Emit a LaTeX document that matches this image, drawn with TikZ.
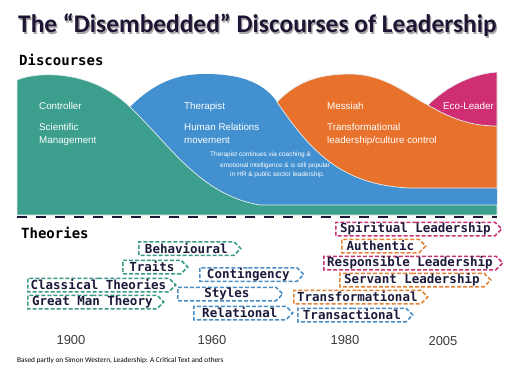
\documentclass[tikz,border=0pt]{standalone}
\usepackage{fontspec}
\setmainfont{Liberation Sans}
\newfontfamily\titlefont{Carlito}
\newfontfamily\codefont{DejaVu Sans Mono}
\usetikzlibrary{shapes.symbols}
\definecolor{tealc}{HTML}{3C9E8D}
\definecolor{bluec}{HTML}{4290CF}
\definecolor{orangec}{HTML}{E8722C}
\definecolor{magc}{HTML}{CF2F72}
\definecolor{tealb}{HTML}{3B9A88}
\definecolor{blueb}{HTML}{4B8EC5}
\definecolor{orangeb}{HTML}{E38336}
\definecolor{magb}{HTML}{C73473}
\definecolor{titlec}{HTML}{1F1433}
\definecolor{boxtext}{HTML}{1C1A3A}
\definecolor{yearc}{HTML}{3C3C3C}
\definecolor{sepc}{HTML}{E6EEF2}
\begin{document}
\begin{tikzpicture}[x=1pt,y=-1pt,
  wave/.style={draw=sepc,line width=0.7pt},
  dlabel/.style={anchor=base west,text=white,inner sep=0pt,font=\fontsize{9.8}{11}\selectfont},
  small/.style={anchor=base west,text=white,inner sep=0pt,font=\fontsize{6.5}{7}\selectfont},
  heading/.style={anchor=base west,inner sep=0pt,text=black,font=\codefont\bfseries\fontsize{14}{15}\selectfont},
  theory/.style={shape=signal,signal to=east,draw,dash pattern=on 4pt off 2pt,line width=1.5pt,
    minimum height=13.5pt,inner ysep=0pt,inner xsep=2pt,anchor=west,text=boxtext,
    font=\codefont\bfseries\fontsize{12.5}{13}\selectfont},
  year/.style={inner sep=0pt,text=yearc,font=\fontsize{13}{14}\selectfont}]
\useasboundingbox (0,0) rectangle (520,369);
\fill[white] (0,0) rectangle (520,369);
% title
\node[anchor=base west,inner sep=0pt,text=black!35,font=\titlefont\bfseries\fontsize{25.4}{28}\selectfont] (titleshadow) at (19.3,34.3) {The “Disembedded” Discourses of Leadership};
\node[anchor=base west,inner sep=0pt,text=titlec,font=\titlefont\bfseries\fontsize{25.4}{28}\selectfont] (title) at (18,33) {The “Disembedded” Discourses of Leadership};
\node[heading] (disc) at (19,66) {Discourses};
% blue
\fill[bluec] (130,107) .. controls (155,82) and (178,74) .. (205,74) .. controls (235,74) and (262,80) .. (277,102) -- (300,120) -- (497,120) -- (497,205) -- (130,205) -- cycle;
% teal
\filldraw[fill=tealc,wave] (17,215) -- (17,80) .. controls (35,72) and (90,68) .. (130,107) .. controls (170,145) and (200,195) .. (260,205) -- (497,205) -- (497,215) -- cycle;
% orange
\filldraw[fill=orangec,wave] (277,102) .. controls (298,80) and (322,74) .. (350,74) .. controls (385,74) and (408,95) .. (428,105) -- (497,112) -- (497,188) -- (410,188) .. controls (340,185) and (310,150) .. (277,102) -- cycle;
% magenta
\filldraw[fill=magc,wave] (428,105) .. controls (445,88) and (470,74) .. (497,72) -- (497,126) .. controls (470,126) and (450,118) .. (428,105) -- cycle;
% discourse labels
\node[dlabel] (ctrl) at (39,110) {Controller};
\node[dlabel] (sci) at (39,130) {Scientific};
\node[dlabel] (mgmt) at (39,143) {Management};
\node[dlabel] (ther) at (184,110) {Therapist};
\node[dlabel] (hr) at (184,130) {Human Relations};
\node[dlabel] (mov) at (184,143) {movement};
\node[small] (s1) at (210,157) {Therapist continues via coaching \&};
\node[small] (s2) at (220,167) {emotional intelligence \& is still popular};
\node[small] (s3) at (230,176) {in HR \& public sector leadership.};
\node[dlabel] (mess) at (327,110) {Messiah};
\node[dlabel] (trf) at (327,130) {Transformational};
\node[dlabel] (lcc) at (327,143) {leadership/culture control};
\node[dlabel] (eco) at (443,110) {Eco-Leader};
% dashed separator
\coordinate (dl) at (17,217);
\coordinate (dr) at (497,217);
\draw[line width=2.6pt,color=titlec,dash pattern=on 10pt off 9pt] (dl) -- (dr);
\node[heading] (theo) at (21,238) {Theories};
% theory boxes
\node[theory,draw=magb,minimum width=166pt] (spir) at (335,229) {Spiritual Leadership};
\node[theory,draw=orangeb,minimum width=84pt] (auth) at (341,246) {Authentic};
\node[theory,draw=magb,minimum width=179pt] (resp) at (323,263) {Responsible Leadership};
\node[theory,draw=orangeb,minimum width=151pt] (serv) at (339,280) {Servant Leadership};
\node[theory,draw=orangeb,minimum width=134pt] (trans) at (293,297) {Transformational};
\node[theory,draw=blueb,minimum width=115pt] (tact) at (297,315) {Transactional};
\node[theory,draw=tealb,minimum width=102pt] (beh) at (138,248.5) {Behavioural};
\node[theory,draw=tealb,minimum width=65pt] (trait) at (122,267) {Traits};
\node[theory,draw=tealb,minimum width=148pt] (class) at (27,285) {Classical Theories};
\node[theory,draw=tealb,minimum width=136pt] (gman) at (27,302) {Great Man Theory};
\node[theory,draw=blueb,minimum width=104pt] (cont) at (199,274.5) {Contingency};
\node[theory,draw=blueb,minimum width=105pt] (sty) at (177,294) {Styles};
\node[theory,draw=blueb,minimum width=99pt] (rel) at (193,313) {Relational};
% years
\node[year] (y1) at (71,340) {1900};
\node[year] (y2) at (212,340) {1960};
\node[year] (y3) at (345,340) {1980};
\node[year] (y4) at (443,341) {2005};
\node[anchor=base west,inner sep=0pt,text=black,font=\titlefont\fontsize{7.3}{8}\selectfont] (foot) at (17,362) {Based partly on Simon Western, Leadership: A Critical Text and others};
\end{tikzpicture}
\end{document}
